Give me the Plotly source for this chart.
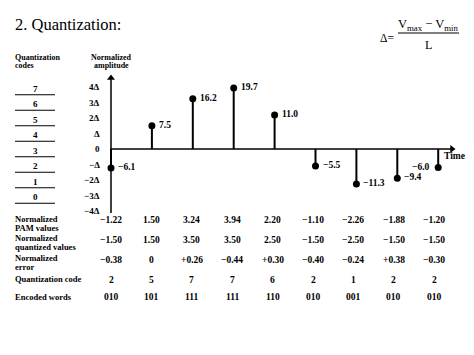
import plotly.graph_objects as go

# ---------------- data ----------------
pam_values = [-1.22, 1.50, 3.24, 3.94, 2.20, -1.10, -2.26, -1.88, -1.20]
sample_labels = ["−6.1", "7.5", "16.2", "19.7", "11.0", "−5.5", "−11.3", "−9.4", "−6.0"]
quantized = ["−1.50", "1.50", "3.50", "3.50", "2.50", "−1.50", "−2.50", "−1.50", "−1.50"]
pam_text = ["−1.22", "1.50", "3.24", "3.94", "2.20", "−1.10", "−2.26", "−1.88", "−1.20"]
errors = ["−0.38", "0", "+0.26", "−0.44", "+0.30", "−0.40", "−0.24", "+0.38", "−0.30"]
codes = ["2", "5", "7", "7", "6", "2", "1", "2", "2"]
encoded = ["010", "101", "111", "111", "110", "010", "001", "010", "010"]
code_levels = [0, 1, 2, 3, 4, 5, 6, 7]
tick_vals = [4, 3, 2, 1, 0, -1, -2, -3, -4]
tick_text = ["4Δ", "3Δ", "2Δ", "Δ", "0", "−Δ", "−2Δ", "−3Δ", "−4Δ"]
row_labels = [["Normalized", "PAM values"], ["Normalized", "quantized values"],
              ["Normalized", "error"], ["Quantization code"], ["Encoded words"]]
row_values = [pam_text, quantized, errors, codes, encoded]

# ---------------- geometry (page pixel mapping) ----------------
W, H = 474, 355
OFF = 8  # page body margin
X_ORIGIN_PX = 111.0
X_STEP_PX = 40.9
Y_ZERO_PX = 149.0
Y_STEP_PX = 15.5


def px_x(p):
    return (p - X_ORIGIN_PX) / X_STEP_PX


def px_y(p):
    return (Y_ZERO_PX - p) / Y_STEP_PX


x_range = [px_x(OFF), px_x(W)]
y_range = [px_y(H), px_y(OFF)]

FONT = "Liberation Serif"
BLK = "black"
fig = go.Figure()

# stems
sx, sy = [], []
for i, v in enumerate(pam_values):
    sx += [i, i, None]
    sy += [0, v, None]
fig.add_trace(go.Scatter(x=sx, y=sy, mode="lines", line=dict(color=BLK, width=2),
                         hoverinfo="skip", showlegend=False))
fig.add_trace(go.Scatter(x=list(range(len(pam_values))), y=pam_values, mode="markers",
                         marker=dict(color=BLK, size=7), showlegend=False))

# axes lines with arrowheads
x_end = px_x(452)
y_top = px_y(78)
y_bot = px_y(213)
fig.add_shape(type="line", x0=0, x1=x_end, y0=0, y1=0, line=dict(color=BLK, width=1.5))
fig.add_shape(type="line", x0=0, x1=0, y0=y_bot, y1=y_top, line=dict(color=BLK, width=1.5))
fig.add_trace(go.Scatter(x=[x_end, 0], y=[0, y_top], mode="markers",
                         marker=dict(color=BLK, size=7,
                                     symbol=["triangle-right", "triangle-up"]),
                         hoverinfo="skip", showlegend=False))
fig.add_annotation(x=px_x(442), y=px_y(156), text="<b>Time</b>", showarrow=False,
                   xanchor="left", font=dict(family=FONT, size=9.5, color=BLK))

# tick labels
for v, t in zip(tick_vals, tick_text):
    fig.add_annotation(x=px_x(102), y=v, text="<b>%s</b>" % t, showarrow=False,
                       xanchor="right", font=dict(family=FONT, size=9, color=BLK))

# sample value labels
for i, (v, t) in enumerate(zip(pam_values, sample_labels)):
    left = (i == len(pam_values) - 1)
    fig.add_annotation(x=i, y=v, text="<b>%s</b>" % t, showarrow=False,
                       xanchor="right" if left else "left",
                       xshift=-6 if left else 5, yshift=1,
                       font=dict(family=FONT, size=9.5, color=BLK))

# quantization code levels
for c in code_levels:
    lvl = c - 3.5
    fig.add_shape(type="line", x0=px_x(15), x1=px_x(55), y0=lvl, y1=lvl,
                  line=dict(color=BLK, width=1.2))
    fig.add_annotation(x=px_x(35), y=lvl, text="<b>%d</b>" % c, showarrow=False,
                       yanchor="bottom", yshift=-1,
                       font=dict(family=FONT, size=9, color=BLK))

# headers (two lines each)
for j, line in enumerate(["Quantization", "codes"]):
    fig.add_annotation(x=px_x(13), y=px_y(57 + 8.5 * j), text="<b>%s</b>" % line,
                       showarrow=False, xanchor="left",
                       font=dict(family=FONT, size=8, color=BLK))
for j, line in enumerate(["Normalized", "amplitude"]):
    fig.add_annotation(x=0, y=px_y(57 + 8.5 * j), text="<b>%s</b>" % line,
                       showarrow=False, xanchor="center",
                       font=dict(family=FONT, size=8, color=BLK))

# table
label_y_px = [219, 238, 258, 279, 297]
value_y_px = [220, 239.5, 260, 280, 297]
for lines, ly in zip(row_labels, label_y_px):
    for j, line in enumerate(lines):
        fig.add_annotation(x=px_x(13), y=px_y(ly + 8.5 * j), text="<b>%s</b>" % line,
                           showarrow=False, xanchor="left",
                           font=dict(family=FONT, size=8.5, color=BLK))
for vals, vy in zip(row_values, value_y_px):
    for i, t in enumerate(vals):
        fig.add_annotation(x=i * 0.988, y=px_y(vy), text="<b>%s</b>" % t, showarrow=False,
                           font=dict(family=FONT, size=9.5, color=BLK))

# title
fig.add_annotation(x=px_x(13), y=px_y(24), text="2. Quantization:",
                   showarrow=False, xanchor="left", yanchor="middle",
                   font=dict(family=FONT, size=16.5, color=BLK))

# formula
fig.add_annotation(x=px_x(396), y=px_y(38), text="Δ=",
                   showarrow=False, xanchor="right", yanchor="middle",
                   font=dict(family=FONT, size=11.5, color=BLK))
fig.add_annotation(x=px_x(428), y=px_y(25), text="V<sub>max</sub> − V<sub>min</sub>",
                   showarrow=False, xanchor="center", yanchor="middle",
                   font=dict(family=FONT, size=12.5, color=BLK))
fig.add_shape(type="line", x0=px_x(398), x1=px_x(459), y0=px_y(33), y1=px_y(33),
              line=dict(color=BLK, width=1))
fig.add_annotation(x=px_x(428), y=px_y(45), text="L",
                   showarrow=False, xanchor="center", yanchor="middle",
                   font=dict(family=FONT, size=12, color=BLK))

fig.update_layout(
    width=W - OFF, height=H - OFF, margin=dict(l=0, r=0, t=0, b=0),
    plot_bgcolor="white", paper_bgcolor="white", showlegend=False,
    xaxis=dict(range=x_range, visible=False, fixedrange=True),
    yaxis=dict(range=y_range, visible=False, fixedrange=True),
)
fig.write_html("out.html")
